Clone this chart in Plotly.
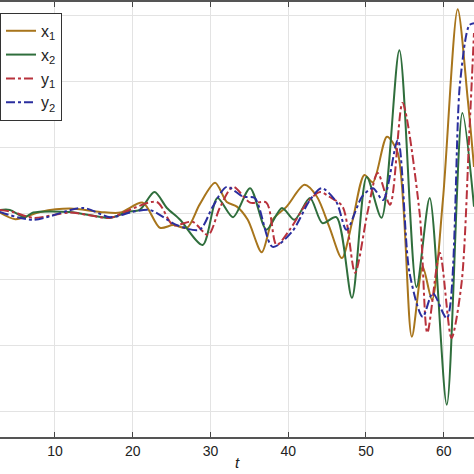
import plotly.graph_objects as go

t_x1 = [2.9,4.9,8.1,11.9,15.8,18.4,21.3,23.5,25.2,27.0,28.6,30.6,32.1,33.4,34.8,36.6,38.0,39.8,42.1,43.7,45.3,46.9,48.3,49.8,50.9,52.7,54.1,55.9,57.3,58.5,59.9,61.8,63.1,63.9]
x1 = [0.02,-0.08,0.03,0.08,0.03,0.02,0.17,-0.21,-0.17,-0.21,0.14,0.47,0.18,0.11,-0.09,-0.58,-0.09,0.11,0.44,0.26,-0.20,-0.67,-0.09,0.59,0.48,1.17,0.92,-1.86,-0.80,-1.30,0.21,3.1,1.73,0.71]

t_x2 = [2.9,4.2,6.1,7.2,11.9,17.1,19.3,20.9,22.8,24.4,26.1,29.0,30.9,32.9,35.1,37.2,39.2,40.8,42.8,44.4,46.2,48.2,50.1,52.0,54.3,56.5,58.2,60.4,62.4,63.9]
x2 = [0.06,0.06,-0.05,0.02,0.03,-0.06,0.03,0.06,0.33,0.09,-0.09,-0.47,0.24,-0.05,0.39,-0.24,0.09,-0.09,0.24,-0.14,-0.05,-1.27,0.56,-0.06,2.48,-1.11,0.24,-2.89,1.53,0.11]

t_y1 = [2.9,4.6,7.2,11.9,17.1,19.0,23.1,25.2,27.7,29.7,31.2,32.9,35.1,37.2,38.5,40.2,42.5,44.1,45.3,47.0,48.6,50.2,51.5,53.1,54.7,56.9,57.9,59.5,61.0,62.3,63.3,63.9]
y1 = [0.06,0.03,-0.06,0.02,-0.06,0.03,0.18,-0.17,-0.12,-0.32,0.09,0.41,0.17,0.17,-0.47,-0.24,0.18,0.33,0.26,0.11,-0.89,0.02,0.62,0.14,1.68,0.02,-1.80,-0.59,-1.88,-1.05,1.23,2.74]

t_y2 = [2.9,7.2,13.6,17.1,20.0,22.2,25.7,28.6,30.3,32.1,34.2,35.7,38.0,40.5,42.8,44.3,46.2,47.5,49.5,50.9,52.2,54.1,55.6,57.3,58.6,60.4,62.1,63.3,63.9]
y2 = [0.03,-0.09,0.09,-0.05,0.03,0.06,-0.17,-0.24,0.11,0.41,0.26,0.24,-0.50,-0.27,0.21,0.39,0.18,-0.24,0.26,0.39,0.21,1.12,-0.89,-1.56,-1.20,-1.58,1.98,2.86,2.89]

series = [
    ("x<sub>1</sub>", t_x1, x1, "#A8751C", "solid"),
    ("x<sub>2</sub>", t_x2, x2, "#2F6E3C", "solid"),
    ("y<sub>1</sub>", t_y1, y1, "#B8323C", "dashdot"),
    ("y<sub>2</sub>", t_y2, y2, "#2A2E9E", "dashdot"),
]

fig = go.Figure()
for name, t, v, c, d in series:
    fig.add_trace(go.Scatter(x=t, y=v, name=name, mode="lines",
                             line=dict(color=c, width=2, dash=d, shape="spline", smoothing=0.8)))

fig.update_layout(
    width=474, height=474,
    margin=dict(l=0, r=0, t=2, b=37, autoexpand=False),
    paper_bgcolor="white", plot_bgcolor="white",
    font=dict(family="Liberation Sans, Arial", size=14, color="#222"),
    legend=dict(x=0, y=0.975, xanchor="left", yanchor="top",
                bgcolor="white", bordercolor="#333", borderwidth=1,
                font=dict(size=16), tracegroupgap=0),
    xaxis=dict(range=[2.93, 63.9], tickvals=[10, 20, 30, 40, 50, 60],
               showgrid=True, gridcolor="#E3E3E3", ticks="inside", ticklen=5,
               tickcolor="#444", showline=True, linecolor="#555", linewidth=2,
               mirror="ticks", zeroline=False,
               title=dict(text="<i>t</i>", standoff=0, font=dict(size=15))),
    yaxis=dict(range=[-3.38, 3.21], dtick=1, showgrid=True, gridcolor="#E3E3E3",
               showticklabels=False, zeroline=False, showline=False),
)

fig.write_html("out.html", config={"displayModeBar": False},
               post_script="document.body.style.margin='0';")
